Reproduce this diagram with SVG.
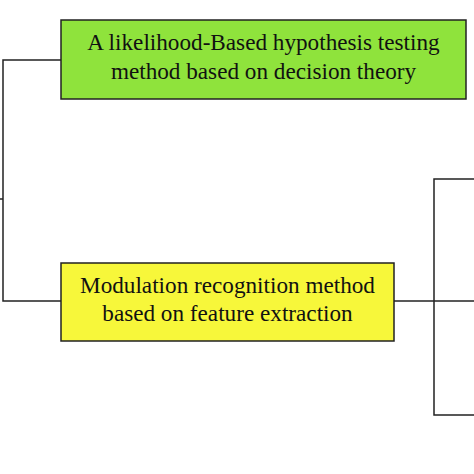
<svg xmlns="http://www.w3.org/2000/svg" width="474" height="474" viewBox="0 0 474 474">
<style>
.box{stroke:#222;stroke-width:1.5}
.t{font-family:"Liberation Serif","Times New Roman",serif;font-size:23.2px;fill:#111;text-anchor:middle}
.c{fill:none;stroke:#222;stroke-width:1.5}
</style>
<rect width="474" height="474" fill="#fff"/>
<g id="connectors">
<polyline class="c" points="61,60 3,60 3,301 61,301"/>
<line class="c" x1="0" y1="199" x2="3" y2="199"/>
<line class="c" x1="394" y1="301" x2="474" y2="301"/>
<polyline class="c" points="474,179 434,179 434,415 474,415"/>
</g>
<g id="node1">
<rect class="box" x="61" y="20" width="405" height="79" fill="#8FE33C"/>
<text class="t" x="263.5" y="50">A likelihood-Based hypothesis testing</text>
<text class="t" x="263.5" y="79">method based on decision theory</text>
</g>
<g id="node2">
<rect class="box" x="61" y="263" width="333" height="78" fill="#F7F73A"/>
<text class="t" x="227.5" y="293">Modulation recognition method</text>
<text class="t" x="227.5" y="321">based on feature extraction</text>
</g>
</svg>
